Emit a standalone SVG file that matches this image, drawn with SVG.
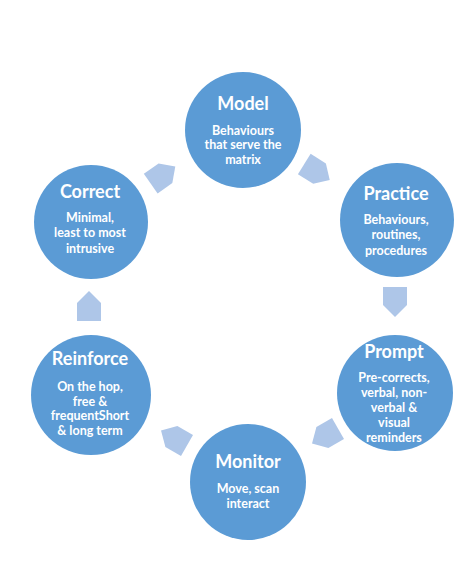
<svg xmlns="http://www.w3.org/2000/svg" width="474" height="577" viewBox="0 0 474 577">
  <defs>
    <style>
      .node { fill: #5B9BD5; }
      .title { font-family: Lato, "Liberation Sans", sans-serif; font-weight: 700; font-size: 18px; fill: #FFFFFF; text-anchor: middle; }
      .body { font-family: Lato, "Liberation Sans", sans-serif; font-weight: 700; font-size: 12.5px; fill: #FFFFFF; text-anchor: middle; }
      .arrow { fill: #AEC6E8; }
    </style>
    <polygon id="arr" points="-15,-12 3,-12 15,0 3,12 -15,12"/>
  </defs>
  <rect width="474" height="577" fill="#FFFFFF"/>

  <g id="connectors">
    <use href="#arr" class="arrow" transform="translate(163,175) rotate(-35)"/>
    <use href="#arr" class="arrow" transform="translate(317,172) rotate(32)"/>
    <use href="#arr" class="arrow" transform="translate(395,302) rotate(90)"/>
    <use href="#arr" class="arrow" transform="translate(325,436) rotate(150)"/>
    <use href="#arr" class="arrow" transform="translate(174,438) rotate(-150)"/>
    <use href="#arr" class="arrow" transform="translate(89,306) rotate(-90)"/>
  </g>

  <g id="model">
    <circle class="node" cx="243" cy="130" r="58"/>
    <text class="title" x="243" y="109.5">Model</text>
    <text class="body" x="243" y="134.5">Behaviours</text>
    <text class="body" x="243" y="149">that serve the</text>
    <text class="body" x="243" y="163.5">matrix</text>
  </g>

  <g id="practice">
    <circle class="node" cx="397" cy="220" r="57"/>
    <text class="title" x="396" y="199.5">Practice</text>
    <text class="body" x="396" y="223.5">Behaviours,</text>
    <text class="body" x="396" y="239">routines,</text>
    <text class="body" x="396" y="254.5">procedures</text>
  </g>

  <g id="prompt">
    <circle class="node" cx="395" cy="393" r="58"/>
    <text class="title" x="394" y="357.5">Prompt</text>
    <text class="body" x="394" y="381.5">Pre-corrects,</text>
    <text class="body" x="394" y="396.5">verbal, non-</text>
    <text class="body" x="394" y="411.5">verbal &amp;</text>
    <text class="body" x="394" y="426.5">visual</text>
    <text class="body" x="394" y="441.5">reminders</text>
  </g>

  <g id="monitor">
    <circle class="node" cx="248" cy="482" r="58"/>
    <text class="title" x="248" y="467.5">Monitor</text>
    <text class="body" x="248" y="492.5">Move, scan</text>
    <text class="body" x="248" y="507.5">interact</text>
  </g>

  <g id="reinforce">
    <circle class="node" cx="91" cy="395" r="60"/>
    <text class="title" x="90" y="364.5">Reinforce</text>
    <text class="body" x="90" y="390.5">On the hop,</text>
    <text class="body" x="90" y="405.5">free &amp;</text>
    <text class="body" x="90" y="420">frequentShort</text>
    <text class="body" x="90" y="434.5">&amp; long term</text>
  </g>

  <g id="correct">
    <circle class="node" cx="91" cy="222" r="57"/>
    <text class="title" x="90" y="197.5">Correct</text>
    <text class="body" x="90" y="221.5">Minimal,</text>
    <text class="body" x="90" y="237">least to most</text>
    <text class="body" x="90" y="252.5">intrusive</text>
  </g>
</svg>
